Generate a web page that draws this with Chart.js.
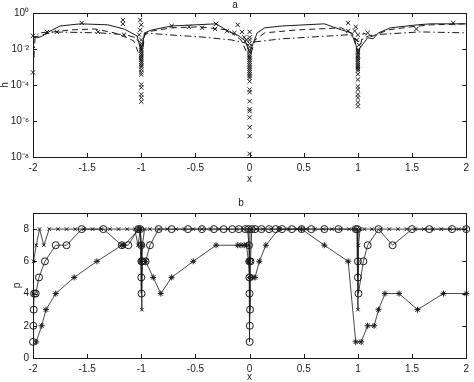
<!DOCTYPE html>
<html>
<head>
<meta charset="utf-8">
<script src="https://cdn.jsdelivr.net/npm/chart.js@4"></script>
<style>
  html, body { margin: 0; padding: 0; background: #fff; }
  #wrap { position: relative; width: 474px; height: 382px; }
  canvas { position: absolute; left: 0; }
</style>
</head>
<body>
<div id="wrap">
  <canvas id="ca" width="474" height="190" style="top:0"></canvas>
  <canvas id="cb" width="474" height="192" style="top:190px"></canvas>
</div>
<script>
// ---------- Panel a: h vs x ----------
const solidX = [-2, -1.955, -1.91, -1.84, -1.75, -1.56, -1.31, -1.16, -1.04, -1.0, -0.97, -0.9, -0.72, -0.31, -0.2, -0.1, -0.04, 0.0, 0.02, 0.07, 0.14, 0.3, 0.69, 0.85, 0.94, 1.0, 1.09, 1.14, 1.19, 1.3, 1.55, 1.67, 2.0];
const solidH = [0.054, 0.042, 0.054, 0.1, 0.19, 0.25, 0.22, 0.13, 0.054, 0.008, 0.079, 0.115, 0.19, 0.25, 0.1, 0.054, 0.028, 0.006, 0.013, 0.079, 0.15, 0.19, 0.25, 0.115, 0.079, 0.008, 0.042, 0.037, 0.079, 0.15, 0.22, 0.25, 0.25];

const dashX = [-2, -1.91, -1.81, -1.65, -1.43, -1.25, -1.13, -1.07, -1.03, -1.0, -0.97, -0.9, -0.72, -0.47, -0.2, -0.08, 0.0, 0.05, 0.14, 0.44, 0.85, 0.96, 1.0, 1.05, 1.12, 1.28, 1.49, 1.67, 2.0];
const dashH = [0.042, 0.062, 0.089, 0.115, 0.13, 0.079, 0.042, 0.028, 0.007, 0.002, 0.06, 0.1, 0.15, 0.17, 0.115, 0.032, 0.003, 0.032, 0.079, 0.115, 0.15, 0.063, 0.004, 0.079, 0.048, 0.115, 0.17, 0.22, 0.25];

const dotX = [-2, -1.98, -1.94, -1.85, -1.39, -1.14, -1.05, -1.0, -0.96, -0.78, -0.47, -0.17, -0.04, 0.0, 0.05, 0.3, 0.76, 0.93, 1.0, 1.1, 1.17, 1.57, 2.0];
const dotH = [5e-4, 0.05, 0.079, 0.089, 0.079, 0.062, 0.042, 0.013, 0.079, 0.063, 0.048, 0.032, 0.022, 0.015, 0.025, 0.037, 0.054, 0.063, 0.025, 0.054, 0.063, 0.089, 0.079];

const crossX = [-2.0, -2.0, -1.87, -1.78, -1.55, -1.4, -1.17, -1.17, -1.16,
  -1.01, -1.0, -1.01, -1.02, -1.0, -1.0, -1.0, -1.0, -1.0, -1.0, -1.0, -1.0, -1.0, -1.0, -1.0, -1.0, -1.0, -1.0, -1.0, -1.0, -1.0, -1.0, -1.0, -1.0, -1.0, -1.0,
  -0.72, -0.56, -0.44, -0.32, -0.31, -0.21, -0.14, -0.11, -0.07, -0.05, -0.03,
  0.0, 0.0, 0.0, 0.0, 0.0, 0.0, 0.0, 0.0, 0.0, 0.0, 0.0, 0.0, 0.0, 0.0, 0.0, 0.0, 0.0, 0.0, 0.0, 0.0, 0.0, 0.0, 0.0, 0.0, 0.0, 0.0, 0.0, 0.0, 0.0, 0.0, 0.0,
  0.91, 0.91, 0.98, 0.97, 1.0, 0.99, 1.01, 1.0, 1.0, 1.0, 1.0, 1.0, 1.0, 1.0, 1.0, 1.0, 1.0, 1.0, 1.0, 1.0, 1.0, 1.0, 1.0, 1.0, 1.0, 1.0, 1.0,
  1.09, 1.54, 1.88];
const crossH = [5e-4, 0.054, 0.089, 0.089, 0.28, 0.089, 0.41, 0.25, 0.062,
  0.41, 0.22, 0.115, 0.062, 0.032, 0.02, 0.013, 0.01, 7.9e-3, 6.3e-3, 5e-3, 4e-3, 3.2e-3, 2.5e-3, 2e-3, 1.6e-3, 1.26e-3, 1e-3, 7.2e-4, 5e-4, 3.8e-4, 1.07e-4, 7.2e-5, 3e-5, 2e-5, 1.2e-5,
  0.19, 0.17, 0.15, 0.13, 0.25, 0.1, 0.079, 0.22, 0.089, 0.045, 0.032,
  0.089, 0.032, 0.02, 0.013, 9.1e-3, 7e-3, 5e-3, 4e-3, 3.2e-3, 2.5e-3, 2e-3, 1.6e-3, 1.26e-3, 1e-3, 7.9e-4, 6.3e-4, 5e-4, 4e-4, 3.2e-4, 2.5e-4, 1.6e-4, 5.6e-5, 4e-5, 1.26e-5, 4.5e-6, 3.5e-6, 1.6e-6, 4.5e-7, 1.45e-7, 1.5e-8, 0.045,
  0.28, 0.1, 0.17, 0.1, 0.062, 0.032, 0.017, 9.1e-3, 7e-3, 5e-3, 4e-3, 3.2e-3, 2.5e-3, 2e-3, 1.6e-3, 1.26e-3, 1e-3, 7.9e-4, 6.3e-4, 4e-4, 2e-4, 8.3e-5, 5.6e-5, 3e-5, 2e-5, 1.07e-5, 6.5e-6,
  0.079, 0.13, 0.28];

const hTickValues = [1e-8, 1e-6, 1e-4, 1e-2, 1];
const hTickLabels = ['10\u207B\u2078', '10\u207B\u2076', '10\u207B\u2074', '10\u207B\u00B2', '10\u2070'];

const xTickValues = [-2, -1.5, -1, -0.5, 0, 0.5, 1, 1.5, 2];
const xTickLabels = ['-2', '-1.5', '-1', '-0.5', '0', '0.5', '1', '1.5', '2'];

// ---------- Panel b: p vs x ----------
const starX = [-1.97, -1.92, -1.88, -1.79, -1.62, -1.41, -1.18, -1.16, -1.02, -1.01, -1.0, -1.0, -0.96, -0.89, -0.82, -0.72, -0.52, -0.31, -0.11, -0.08, -0.05, -0.03, -0.01, 0.0, 0.03, 0.05, 0.09, 0.15, 0.27, 0.48, 0.69, 0.91, 0.98, 1.03, 1.09, 1.15, 1.19, 1.25, 1.38, 1.55, 1.79, 2.0];
const starP = [1, 2, 3, 4, 5, 6, 7, 7, 8, 8, 7, 6, 6, 5, 4, 5, 6, 7, 7, 7, 7, 7, 6, 5, 5, 5, 6, 7, 8, 8, 7, 6, 1, 1, 2, 2, 3, 4, 4, 3, 4, 4];

const circX = [-2.0, -1.997, -1.993, -1.99, -1.975, -1.945, -1.89, -1.79, -1.69, -1.55, -1.35, -1.18, -1.12, -1.03, -1.01, -1.0, -1.0, -1.0, -0.998, -0.99, -0.96, -0.92, -0.84, -0.72, -0.57, -0.44, -0.33, -0.24, -0.16, -0.1, -0.04, -0.01, -0.005, -0.003, -0.002, -0.001, 0.0, 0.002, 0.004, 0.008, 0.02, 0.05, 0.11, 0.18, 0.24, 0.3, 0.39, 0.48, 0.57, 0.69, 0.82, 0.98, 0.995, 1.0, 1.0, 1.005, 1.05, 1.09, 1.19, 1.32, 1.5, 1.66, 1.87, 2.0];
const circP = [1, 2, 3, 4, 4, 5, 6, 7, 7, 8, 8, 7, 7, 8, 8, 7, 6, 5, 4, 6, 6, 7, 8, 8, 8, 8, 8, 8, 8, 8, 8, 8, 7, 6, 5, 4, 1, 2, 3, 6, 8, 8, 8, 8, 8, 8, 8, 8, 8, 8, 8, 8, 8, 6, 5, 4, 6, 7, 8, 7, 8, 8, 8, 8];

const crossPX = [-2.0, -1.995, -1.97, -1.94, -1.9, -1.85, -1.77, -1.69, -1.61, -1.53, -1.45, -1.37, -1.29, -1.21, -1.13, -1.06, -1.03, -1.01, -0.995, -0.99, -0.97, -0.92, -0.84, -0.76, -0.68, -0.6, -0.52, -0.44, -0.36, -0.28, -0.2, -0.12, -0.06, -0.02, -0.005, 0.0, 0.005, 0.02, 0.06, 0.12, 0.2, 0.28, 0.36, 0.44, 0.52, 0.6, 0.68, 0.76, 0.84, 0.92, 0.97, 0.99, 1.0, 1.005, 1.02, 1.06, 1.13, 1.21, 1.29, 1.37, 1.45, 1.53, 1.61, 1.69, 1.77, 1.85, 1.93, 2.0];
const crossP = [4, 6, 7, 8, 7, 8, 8, 8, 8, 8, 8, 8, 8, 8, 8, 8, 7, 8, 3, 7, 8, 8, 8, 8, 8, 8, 8, 8, 8, 8, 8, 8, 8, 8, 7, 6, 8, 8, 8, 8, 8, 8, 8, 8, 8, 8, 8, 8, 8, 8, 8, 8, 3, 7, 8, 8, 8, 8, 8, 8, 8, 8, 8, 8, 8, 8, 8, 8];

const pTickValues = [0, 2, 4, 6, 8];
const pTickLabels = ['0', '2', '4', '6', '8'];

// ---------- helpers ----------
const FONT = "'Liberation Sans', Arial, sans-serif";
const INK = '#1a1a1a';
Chart.defaults.font.family = FONT;
Chart.defaults.color = INK;

function pts(xs, ys) { return xs.map((x, i) => ({ x: x, y: ys[i] })); }

const boxTicks = {
  id: 'boxTicks',
  afterDraw(chart) {
    const { ctx, chartArea: a } = chart;
    const xs = chart.scales.x, ys = chart.scales.y;
    const L = 4;
    ctx.save();
    ctx.strokeStyle = INK;
    ctx.lineWidth = 1;
    ctx.beginPath();
    xs.ticks.forEach(t => {
      const px = Math.round(xs.getPixelForValue(t.value)) + 0.5;
      ctx.moveTo(px, a.bottom); ctx.lineTo(px, a.bottom - L);
      ctx.moveTo(px, a.top); ctx.lineTo(px, a.top + L);
    });
    ys.ticks.forEach(t => {
      const py = Math.round(ys.getPixelForValue(t.value)) + 0.5;
      ctx.moveTo(a.left, py); ctx.lineTo(a.left + L, py);
      ctx.moveTo(a.right, py); ctx.lineTo(a.right - L, py);
    });
    ctx.stroke();
    ctx.strokeRect(Math.round(a.left) + 0.5, Math.round(a.top) + 0.5,
                   Math.round(a.right - a.left), Math.round(a.bottom - a.top));
    ctx.restore();
  }
};

function xScale(titlePadBottom, height) {
  return {
    type: 'linear', min: -2, max: 2,
    grid: { display: false, drawTicks: false }, border: { display: false },
    afterBuildTicks: s => { s.ticks = xTickValues.map(v => ({ value: v })); },
    ticks: {
      padding: 5, maxRotation: 0, autoSkip: false, font: { size: 10 },
      callback: v => { const i = xTickValues.indexOf(v); return i >= 0 ? xTickLabels[i] : ''; }
    },
    title: { display: true, text: 'x', font: { size: 10, lineHeight: 1 }, padding: { top: 0, bottom: titlePadBottom } },
    afterFit: s => { s.height = height; }
  };
}

// ---------- chart a ----------
new Chart(document.getElementById('ca'), {
  type: 'line',
  data: {
    datasets: [
      { label: 'solid', data: pts(solidX, solidH), borderColor: INK, borderWidth: 1, pointRadius: 0, tension: 0 },
      { label: 'dashed', data: pts(dashX, dashH), borderColor: INK, borderWidth: 1, borderDash: [6, 4], pointRadius: 0, tension: 0 },
      { label: 'dashdot', data: pts(dotX, dotH), borderColor: INK, borderWidth: 1, borderDash: [7, 3, 1.5, 3], pointRadius: 0, tension: 0 },
      { label: 'cross', data: pts(crossX, crossH), showLine: false, clip: false, borderColor: INK, pointStyle: 'crossRot', pointRadius: 3, pointBorderWidth: 1, pointBorderColor: INK }
    ]
  },
  options: {
    responsive: false, animation: false, devicePixelRatio: 1,
    layout: { padding: { left: 0, right: 4, top: 0, bottom: 0 } },
    plugins: {
      legend: { display: false }, tooltip: { enabled: false },
      title: { display: true, text: 'a', font: { size: 10, weight: 'normal', lineHeight: 1 }, padding: { top: 0, bottom: 3 }, color: INK }
    },
    scales: {
      x: xScale(6, 33),
      y: {
        type: 'logarithmic', min: 1e-8, max: 1,
        grid: { display: false, drawTicks: false }, border: { display: false },
        afterBuildTicks: s => { s.ticks = hTickValues.map(v => ({ value: v })); },
        ticks: {
          padding: 4, autoSkip: false, font: { size: 10 },
          callback: v => { const i = hTickValues.indexOf(v); return i >= 0 ? hTickLabels[i] : ''; }
        },
        title: { display: true, text: 'h', font: { size: 10, lineHeight: 1 }, padding: { top: 0, bottom: 0 } },
        afterFit: s => { s.width = 33; }
      }
    }
  },
  plugins: [boxTicks]
});

// ---------- chart b ----------
new Chart(document.getElementById('cb'), {
  type: 'line',
  data: {
    datasets: [
      { label: 'x', data: pts(crossPX, crossP), clip: false, borderColor: INK, borderWidth: 0.8, pointStyle: 'crossRot', pointRadius: 2.5, pointBorderWidth: 1, pointBorderColor: INK, pointBackgroundColor: INK, tension: 0 },
      { label: 'o', data: pts(circX, circP), clip: false, borderColor: INK, borderWidth: 0.8, pointStyle: 'circle', pointRadius: 3.5, pointBorderWidth: 1, pointBorderColor: INK, pointBackgroundColor: 'rgba(0,0,0,0)', tension: 0 },
      { label: '*', data: pts(starX, starP), clip: false, borderColor: INK, borderWidth: 0.8, pointStyle: 'star', pointRadius: 3, pointBorderWidth: 1, pointBorderColor: INK, pointBackgroundColor: INK, tension: 0 }
    ]
  },
  options: {
    responsive: false, animation: false, devicePixelRatio: 1,
    layout: { padding: { left: 12, right: 4, top: 0, bottom: 0 } },
    plugins: {
      legend: { display: false }, tooltip: { enabled: false },
      title: { display: true, text: 'b', font: { size: 10, weight: 'normal', lineHeight: 1 }, padding: { top: 8, bottom: 5 }, color: INK }
    },
    scales: {
      x: xScale(0, 24),
      y: {
        type: 'linear', min: 0, max: 9,
        grid: { display: false, drawTicks: false }, border: { display: false },
        afterBuildTicks: s => { s.ticks = pTickValues.map(v => ({ value: v })); },
        ticks: {
          padding: 4, autoSkip: false, font: { size: 10 },
          callback: v => { const i = pTickValues.indexOf(v); return i >= 0 ? pTickLabels[i] : ''; }
        },
        title: { display: true, text: 'p', font: { size: 10, lineHeight: 1 }, padding: { top: 0, bottom: 0 } },
        afterFit: s => { s.width = 21; }
      }
    }
  },
  plugins: [boxTicks]
});
</script>
</body>
</html>
